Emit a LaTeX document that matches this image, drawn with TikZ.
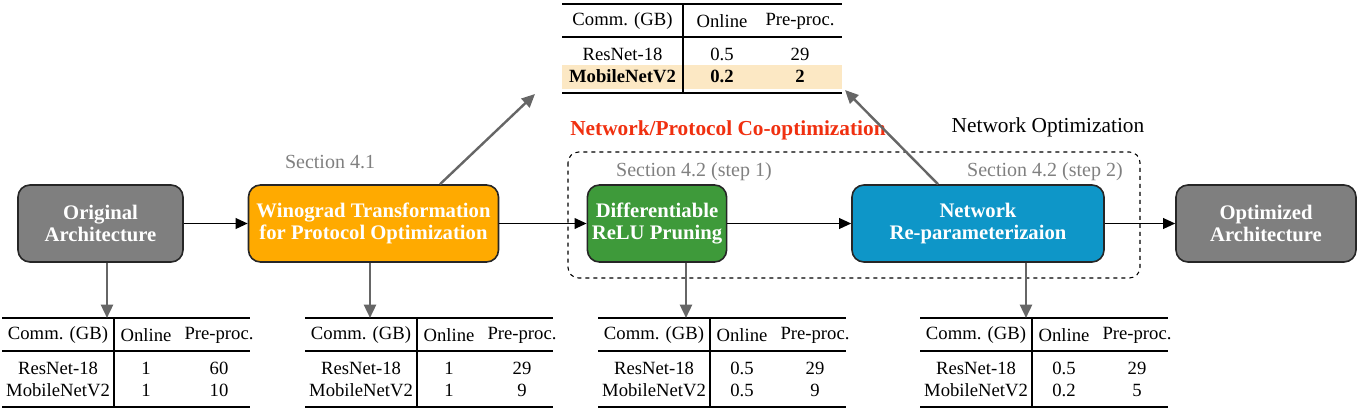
\documentclass[tikz,border=0pt]{standalone}
\usepackage{fontspec}
\setmainfont{Liberation Serif}
\usetikzlibrary{arrows.meta}
\definecolor{gbox}{HTML}{7F7F7F}
\definecolor{obox}{HTML}{FFAA00}
\definecolor{grbox}{HTML}{3E9A3A}
\definecolor{bbox}{HTML}{0E96C8}
\definecolor{hl}{HTML}{FCE8C4}
\definecolor{redt}{HTML}{F03010}
\newcommand\mytab[9]{% name, x0, y0, width, vline, online off, pre off, r1, r2
\coordinate (#1) at (#2+0.5*#4,#3);
\draw[line width=1pt] (#2,#3) -- ++(#4,0);
\draw[line width=0.8pt] (#2,#3+33) -- ++(#4,0);
\draw[line width=1pt] (#2,#3+89) -- ++(#4,0);
\draw[line width=0.8pt] (#2+#5,#3) -- ++(0,89);
\path (#2+0.5*#5,#3+17) node[tt]{Comm. (GB)}
 (#2+#5+#6,#3+17) node[tt]{Online}
 (#2+#5+#7,#3+17) node[tt]{Pre-proc.};
\foreach \a/\b/\c [count=\i] in {#8,#9}{
 \path (#2+0.5*#5,#3+28+22*\i) node[tt]{\a}
 (#2+#5+#6,#3+28+22*\i) node[tt]{\b}
 (#2+#5+#7,#3+28+22*\i) node[tt]{\c};}
}
\begin{document}
\begin{tikzpicture}[x=0.75pt,y=-0.75pt,
 box/.style={draw=black!85,line width=1.2pt,rounded corners=9pt,minimum height=77*0.75pt,align=center,text=white,font=\fontsize{15.5}{17}\selectfont\bfseries},
 tt/.style={font=\fontsize{14}{16}\selectfont,inner sep=0pt},
 lab/.style={font=\fontsize{15}{17}\selectfont,text=black!50},
 blk/.style={-{Triangle[length=9pt,width=8pt]},line width=1.2pt},
 gry/.style={-{Triangle[length=10pt,width=9pt]},line width=1.8pt,draw=black!60,color=black!60}]
\useasboundingbox (0,0) rectangle (1364,412);
\node[box,fill=gbox,minimum width=165*0.75pt] (orig) at (100.5,223.5) {Original\\Architecture};
\node[box,fill=obox,minimum width=250*0.75pt] (wino) at (373.5,223.5) {Winograd Transformation\\for Protocol Optimization};
\node[box,fill=grbox,minimum width=108*0.75pt] (diff) at (657,223.5) {Differentiable\\ReLU Pruning};
\node[box,fill=bbox,minimum width=252*0.75pt] (net) at (978,223.5) {Network\\Re-parameterizaion};
\node[box,fill=gbox,minimum width=180*0.75pt] (opt) at (1266,223.5) {Optimized\\Architecture};
\draw[blk] (orig) -- (wino);
\draw[blk] (wino) -- (diff);
\draw[blk] (diff) -- (net);
\draw[blk] (net) -- (opt);
\draw[dashed,rounded corners=8pt,line width=0.8pt] (568,152) rectangle (1140,278);
\node[lab] (s41) at (330,162) {Section 4.1};
\node[lab] (s421) at (694,172) {Section 4.2 (step 1)};
\node[lab] (s422) at (1045,172) {Section 4.2 (step 2)};
\node[font=\fontsize{16}{18}\selectfont\bfseries,text=redt] (co) at (728,130) {Network/Protocol Co-optimization};
\node[font=\fontsize{16}{18}\selectfont] (no) at (1048,127) {Network Optimization};
% top table
\fill[hl] (562,65) rectangle (842,89);
\mytab{ttop}{562}{4}{280}{121}{39}{117}{ResNet-18/0.5/29}{\textbf{MobileNetV2}/\textbf{0.2}/\textbf{2}}
\mytab{t1}{2}{318}{248}{112}{32}{105}{ResNet-18/1/60}{MobileNetV2/1/10}
\mytab{t2}{305}{318}{248}{112}{32}{105}{ResNet-18/1/29}{MobileNetV2/1/9}
\mytab{t3}{598}{318}{248}{112}{32}{105}{ResNet-18/0.5/29}{MobileNetV2/0.5/9}
\mytab{t4}{920}{318}{248}{112}{32}{105}{ResNet-18/0.5/29}{MobileNetV2/0.2/5}
\coordinate (ua) at (535,94);
\coordinate (ub) at (845,90);
\draw[gry] (orig.south -| 107,0) -- (107,318);
\draw[gry] (wino.south -| 370,0) -- (370,318);
\draw[gry] (diff.south -| 686,0) -- (686,318);
\draw[gry] (net.south -| 1026,0) -- (1026,318);
\draw[gry] (wino.north -| 440,0) -- (ua);
\draw[gry] (net.north -| 938,0) -- (ub);
\end{tikzpicture}
\end{document}
